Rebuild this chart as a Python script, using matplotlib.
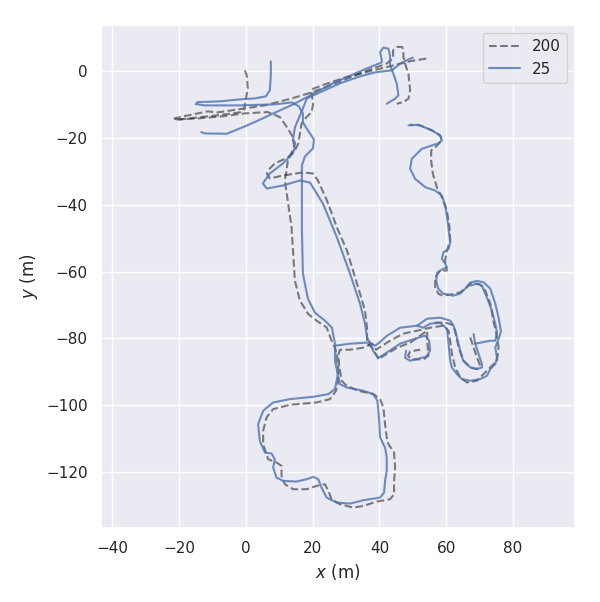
import numpy as np
import matplotlib
matplotlib.use("Agg")
import matplotlib.pyplot as plt
import seaborn as sns

sns.set_theme(style="darkgrid")

# ---- run "200" (dashed grey) : segments in metres ----
g1_x = [-0.3, 0.3, 0.6, -0.3, -0.6, -1.8, -7.8, -14.4, -21.0, -21.3, -18.3, -11.4, -8.4, -0.3, 5.7, 13.8,
        19.8, 26.1, 34.2, 42.3, 44.1, 44.1, 45.3, 46.8, 47.2, 47.2, 48.0, 48.7, 49.2, 48.7, 47.2, 45.2]
g1_y = [0.3, -1.2, -5.1, -10.2, -11.7, -12.3, -13.1, -13.8, -14.6, -14.1, -13.4, -12.0, -12.3, -11.1, -10.2, -8.1,
        -6.3, -3.9, -0.6, 2.4, 3.9, 6.3, 7.3, 7.3, 6.3, 4.3, 1.3, -0.7, -5.7, -8.2, -9.2, -9.7]

g2_x = [54.0, 50.1, 48.2, 44.2, 40.2, 36.2, 30.2, 24.2, 19.7, 19.7, 20.2, 19.7, 17.7, 16.7, 16.2, 15.7,
        14.7, 12.6, 8.7, 7.2, 6.3, 7.2, 11.1, 17.1, 20.1, 21.6, 24.3, 27.3, 30.3, 32.1, 34.2, 35.7,
        36.3, 36.3, 37.8, 38.7, 39.9, 40.8, 45.3, 49.2, 52.2, 54.3, 54.3, 54.7, 53.2, 49.7, 48.6, 49.2, 52.2]
g2_y = [3.8, 3.2, 2.8, 1.8, 0.8, -0.2, -1.7, -3.7, -5.4, -6.7, -9.7, -12.2, -14.2, -15.7, -18.7, -21.7,
        -23.7, -25.8, -27.6, -29.1, -30.6, -32.1, -31.2, -30.3, -30.6, -32.7, -38.7, -46.8, -53.7, -59.7, -66.6, -71.7,
        -76.8, -81.3, -82.8, -84.3, -86.4, -85.5, -82.8, -81.3, -79.2, -77.7, -80.7, -85.2, -86.3, -86.3, -85.2, -83.9, -83.4]

g3_x = [-21.0, -14.4, -7.2, -0.3, 6.6, 10.2, 12.3, 14.1, 14.7, 13.8, 12.6, 12.2, 11.7, 12.7, 13.7, 14.2,
        14.7, 16.2, 18.7, 21.2, 24.2, 25.7, 26.7, 27.7, 27.7,
        27.0, 25.2, 21.2, 13.2, 8.2, 6.2, 5.2, 5.2, 6.7, 9.2, 10.7, 10.7, 11.7, 14.2, 18.2, 21.2, 23.7,
        24.7, 25.7, 28.2, 32.2, 35.2, 39.2, 43.2, 44.4, 44.4, 44.7, 44.4, 42.7, 42.2, 41.7, 41.2, 40.2,
        38.2, 33.7, 30.2, 28.7, 28.2, 27.6, 28.2, 31.2, 35.1, 37.8,
        39.0, 43.2, 47.1, 51.3, 55.2, 59.1, 60.7, 61.2, 61.7, 62.7, 64.2, 66.2, 69.2, 71.2, 73.2, 75.2,
        75.7, 74.9, 74.1, 73.2, 71.7, 70.2, 68.7, 67.2, 66.2, 64.2, 62.2, 59.2, 57.7, 56.7, 56.7, 58.2,
        60.2, 59.7, 60.2, 61.2, 61.0, 60.2, 58.7, 57.2, 56.0, 55.5, 55.5, 57.0, 58.7, 58.2, 55.8, 52.2, 49.2]
g3_y = [-14.4, -14.1, -13.5, -12.6, -12.2, -13.7, -16.7, -19.7, -21.6, -24.3, -26.7, -29.7, -32.7, -39.7, -46.7, -54.7,
        -62.7, -68.7, -72.7, -74.7, -76.7, -80.7, -82.8, -86.7, -92.7,
        -95.7, -98.2, -99.2, -99.9, -101.2, -103.7, -107.7, -111.7, -116.2, -117.2, -118.2, -121.2, -123.7, -125.2, -125.2, -124.2, -123.7,
        -125.7, -128.2, -129.7, -130.7, -130.2, -128.9, -128.2, -126.7, -122.7, -118.7, -114.2, -111.7, -109.7, -105.7, -100.7, -98.2,
        -96.7, -95.7, -94.2, -92.7, -89.7, -85.2, -83.4, -83.4, -82.8, -81.6,
        -83.4, -80.7, -78.6, -77.7, -76.8, -76.2, -77.7, -80.7, -84.7, -88.7, -91.7, -93.2, -92.7, -90.7, -88.7, -86.7,
        -82.7, -78.0, -74.7, -69.6, -65.7, -63.9, -63.6, -63.6, -64.7, -66.2, -66.7, -67.2, -66.7, -64.7, -61.7, -59.7,
        -59.7, -56.7, -53.7, -50.7, -46.7, -41.7, -37.7, -34.7, -30.7, -26.7, -23.7, -22.5, -20.7, -19.2, -17.7, -16.2, -16.0]

g4_x = [67.2, 68.2, 69.2, 70.2, 69.2, 67.2, 65.2, 63.7, 62.7, 61.8, 59.7, 55.8]
g4_y = [-79.7, -82.7, -85.7, -88.2, -89.2, -88.7, -86.7, -82.7, -77.7, -75.9, -75.3, -75.3]

# ---- run "25" (solid blue) ----
b1_x = [7.5, 7.5, 7.2, 6.0, 2.7, -1.8, -7.8, -14.4, -15.0, -12.3, -1.8, 8.7, 13.8, 15.9, 17.1, 17.1,
        18.6, 20.4, 20.1, 17.7, 16.8, 16.8, 16.8, 17.1, 18.6, 20.7, 23.7, 25.8, 26.7, 26.7, 27.6,
        27.2, 26.7, 24.7, 20.2, 13.2, 8.2, 5.2, 3.7, 4.2, 5.7, 7.7, 8.7, 8.2, 9.2, 11.2, 15.2, 18.2,
        20.2, 21.7, 22.7, 24.2, 27.2, 31.2, 35.2, 40.2, 41.4, 41.7, 42.2, 42.2, 41.7, 40.2, 40.0, 39.7,
        39.4, 38.2, 35.2, 30.2, 28.2, 27.6, 27.0, 26.7, 31.2, 35.7, 37.2, 38.7, 39.6, 42.3, 46.2, 51.3,
        53.1, 55.2, 58.2, 60.2, 60.7, 61.2, 61.7, 63.2, 64.7, 67.2, 70.2, 72.2, 73.2, 74.7, 75.2, 74.7,
        75.7, 76.4, 75.7, 74.7, 73.2, 71.2, 69.2, 67.2, 65.7, 64.2, 62.1, 59.1, 57.6, 57.0, 57.3,
        58.7, 60.2, 59.7, 58.7, 59.2, 60.7, 61.2, 60.7, 60.2, 59.7, 58.7, 56.7, 53.7, 50.7, 49.2, 49.7,
        52.7, 57.6, 58.7, 58.2, 55.7, 51.7, 48.7]
b1_y = [3.0, -1.2, -5.7, -7.5, -8.1, -8.4, -9.0, -9.2, -9.8, -10.2, -10.2, -9.9, -9.3, -10.5, -12.6, -15.3,
        -17.7, -20.4, -23.1, -25.5, -28.2, -32.7, -46.8, -60.6, -68.1, -72.3, -74.7, -76.8, -81.6, -86.7, -90.6,
        -92.7, -95.2, -96.7, -97.5, -98.2, -99.2, -101.7, -105.7, -110.7, -114.2, -114.5, -116.2, -118.7, -121.7, -122.7, -122.9, -122.2,
        -121.5, -122.2, -124.7, -127.7, -129.2, -129.5, -128.5, -127.7, -126.2, -122.7, -119.7, -115.7, -112.7, -109.7, -105.7, -101.7,
        -98.7, -96.7, -95.7, -94.7, -93.7, -91.2, -86.7, -82.2, -81.6, -81.3, -81.3, -82.2, -81.6, -79.2, -76.8, -76.2,
        -76.8, -75.6, -75.3, -77.1, -81.6, -86.7, -88.7, -90.7, -92.2, -92.7, -92.2, -91.2, -89.2, -87.7, -85.7, -82.7,
        -80.2, -77.9, -73.9, -69.6, -65.1, -63.2, -62.8, -63.3, -65.1, -66.6, -67.2, -66.6, -65.1, -62.7, -60.3,
        -59.4, -58.7, -57.6, -56.1, -54.2, -53.2, -51.2, -47.2, -43.2, -40.2, -37.2, -35.7, -34.7, -32.2, -29.2, -26.2,
        -23.2, -21.6, -20.7, -19.2, -17.7, -16.0, -16.2]

b2_x = [50.0, 49.2, 46.2, 43.7, 38.7, 34.2, 28.2, 22.2, 18.3, 17.1, 14.7, 14.1, 14.7, 14.1, 11.1, 7.2,
        5.1, 6.3, 11.1, 16.2, 19.2, 23.1, 27.3, 31.2, 34.2, 35.7, 36.3, 37.2, 38.1, 39.6, 40.8, 46.2,
        50.7, 53.7, 54.9, 55.2, 54.0, 49.2, 47.7, 48.0]
b2_y = [4.1, 3.8, 2.3, 0.3, -0.3, -1.5, -3.6, -6.3, -8.1, -11.1, -16.8, -20.7, -22.8, -24.6, -27.6, -30.6,
        -33.6, -35.1, -34.2, -32.7, -33.3, -39.6, -49.8, -60.6, -69.6, -75.6, -79.8, -81.3, -83.7, -85.8, -85.2, -81.6,
        -80.1, -79.2, -80.7, -83.7, -85.5, -86.7, -85.8, -83.7]

b3_x = [-13.3, -12.3, -5.7, -0.3, 4.2, 10.2, 14.2, 18.2, 26.2, 34.2, 40.7, 40.7, 40.2, 41.2, 42.7, 43.2,
        43.2, 44.2, 45.2, 45.7, 44.7, 42.2]
b3_y = [-18.2, -18.6, -18.7, -16.5, -14.5, -11.7, -9.9, -7.8, -3.5, 0.0, 2.7, 3.3, 5.8, 7.1, 6.8, 4.8,
        1.8, -0.7, -3.7, -7.2, -8.2, -9.7]

b4_x = [68.2, 68.7, 70.7, 73.2, 74.7, 75.2, 74.7, 73.7, 72.2, 70.7, 69.2, 67.2]
b4_y = [-78.7, -81.6, -81.2, -80.7, -80.7, -78.2, -75.7, -71.7, -67.8, -64.2, -63.6, -64.2]

b5_x = [68.7, 69.7, 70.7, 70.7, 69.2, 67.2, 65.1, 64.2, 63.2, 62.2, 61.2, 58.2, 54.3, 51.3]
b5_y = [-81.6, -84.7, -87.7, -88.7, -89.2, -88.7, -86.7, -83.7, -79.7, -76.2, -74.7, -73.8, -74.1, -76.2]

grey_runs = [(g1_x, g1_y), (g2_x, g2_y), (g3_x, g3_y), (g4_x, g4_y)]
blue_runs = [(b1_x, b1_y), (b2_x, b2_y), (b3_x, b3_y), (b4_x, b4_y), (b5_x, b5_y)]

fig = plt.figure(figsize=(6, 6.02), dpi=100)
ax = fig.add_axes([0.168, 0.123, 0.79, 0.835])

for i, (x, y) in enumerate(grey_runs):
    ax.plot(x, y, "--", color="k", alpha=0.55, lw=1.5, dash_joinstyle="round",
            label="200" if i == 0 else None)
for i, (x, y) in enumerate(blue_runs):
    ax.plot(x, y, "-", color="C0", alpha=0.8, lw=1.5, solid_joinstyle="round",
            label="25" if i == 0 else None)

ax.set_xlim(-43.4, 98.5)
ax.set_ylim(-136.8, 13.8)
ax.set_xlabel(r"$x$ (m)")
ax.set_ylabel(r"$y$ (m)")
ax.legend(loc="upper right")

fig.savefig("out.png", dpi=100)
